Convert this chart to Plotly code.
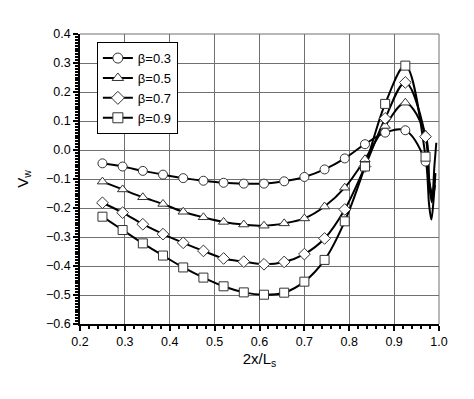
import plotly.graph_objects as go

# marker positions (2x/Ls)
x_mk = [0.25, 0.295, 0.34, 0.385, 0.43, 0.475, 0.52, 0.565, 0.61, 0.655,
        0.70, 0.745, 0.79, 0.835, 0.88, 0.925, 0.97]

labels = ["β=0.3", "β=0.5", "β=0.7", "β=0.9"]
symbols = ["circle", "triangle-up", "diamond", "square"]

v_03 = [-0.046, -0.057, -0.072, -0.085, -0.097, -0.106, -0.113, -0.116, -0.116,
        -0.108, -0.093, -0.067, -0.029, 0.020, 0.060, 0.068, -0.040]
v_05 = [-0.109, -0.136, -0.163, -0.186, -0.213, -0.232, -0.248, -0.257, -0.261,
        -0.253, -0.236, -0.195, -0.130, -0.032, 0.083, 0.163, 0.053]
v_07 = [-0.182, -0.216, -0.256, -0.290, -0.320, -0.348, -0.374, -0.385, -0.394,
        -0.386, -0.359, -0.305, -0.205, -0.057, 0.109, 0.233, 0.046]
v_09 = [-0.230, -0.276, -0.322, -0.364, -0.405, -0.440, -0.470, -0.491, -0.499,
        -0.492, -0.454, -0.379, -0.246, -0.057, 0.159, 0.291, -0.023]

# extra unmarked points at the tip (x > 0.97)
x_tip_03 = [0.978, 0.985, 0.991]
v_tip_03 = [-0.11, -0.15, -0.08]
x_tip_05 = [0.978, 0.985, 0.991]
v_tip_05 = [-0.10, -0.17, -0.12]
x_tip_07 = [0.978, 0.984, 0.990, 0.994]
v_tip_07 = [-0.12, -0.18, -0.05, 0.025]
x_tip_09 = [0.978, 0.983, 0.988, 0.992]
v_tip_09 = [-0.19, -0.24, -0.17, -0.08]

series = [(v_03, x_tip_03, v_tip_03), (v_05, x_tip_05, v_tip_05),
          (v_07, x_tip_07, v_tip_07), (v_09, x_tip_09, v_tip_09)]

fig = go.Figure()
for (v, xt, vt) in series:
    fig.add_trace(go.Scatter(x=x_mk + xt, y=v + vt, mode="lines",
                             line=dict(color="black", width=2, shape="spline", smoothing=1.0),
                             showlegend=False, hoverinfo="skip"))
for (v, xt, vt), sym in zip(series, symbols):
    fig.add_trace(go.Scatter(x=x_mk, y=v, mode="markers",
                             marker=dict(symbol=sym, size=9, color="white",
                                         line=dict(color="#333333", width=1)),
                             showlegend=False))
for lab, sym in zip(labels, symbols):
    fig.add_trace(go.Scatter(x=[None], y=[None], mode="lines+markers", name=lab,
                             line=dict(color="black", width=2),
                             marker=dict(symbol=sym, size=10, color="white",
                                         line=dict(color="#333333", width=1))))

font_family = "Liberation Sans, Arial, sans-serif"
fig.update_layout(
    width=466, height=391,
    margin=dict(l=72, r=35, t=26, b=75),
    paper_bgcolor="white", plot_bgcolor="white",
    font=dict(family=font_family, color="black", size=12),
    showlegend=True,
    legend=dict(x=0.047, y=0.972, xanchor="left", yanchor="top",
                bordercolor="black", borderwidth=1, bgcolor="white",
                font=dict(size=13), itemwidth=30, tracegroupgap=0),
    xaxis=dict(range=[0.2, 1.0], dtick=0.1, tickformat=".1f",
               showgrid=True, gridcolor="#707070", gridwidth=1,
               showline=True, linecolor="black", linewidth=1.5,
               ticks="outside", ticklen=5, tickwidth=1.5, tickcolor="black",
               minor=dict(dtick=0.02, ticks="outside", ticklen=3, tickcolor="black", showgrid=False),
               zeroline=False,
               title=dict(text="2x/L<sub>s</sub>", font=dict(size=15), standoff=6),
               tickfont=dict(size=12.5)),
    yaxis=dict(range=[-0.6, 0.4], dtick=0.1, tickformat=".1f",
               showgrid=True, gridcolor="#707070", gridwidth=1,
               showline=True, linecolor="black", linewidth=1.5,
               ticks="outside", ticklen=5, tickwidth=1.5, tickcolor="black",
               minor=dict(dtick=0.01, ticks="outside", ticklen=3, tickcolor="black", showgrid=False),
               zeroline=False,
               title=dict(text="V<sub>w</sub>", font=dict(size=15), standoff=14),
               tickfont=dict(size=12.5)),
    shapes=[
        dict(type="line", xref="paper", yref="paper", x0=0, x1=1, y0=1, y1=1,
             line=dict(color="#707070", width=1)),
        dict(type="line", xref="paper", yref="paper", x0=1, x1=1, y0=0, y1=1,
             line=dict(color="#707070", width=1)),
    ],
)

fig.write_html("out.html")
